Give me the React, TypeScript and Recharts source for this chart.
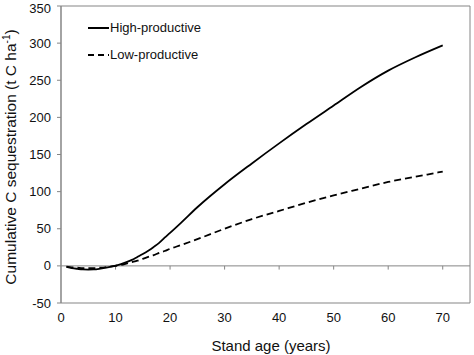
import { LineChart, Line, XAxis, YAxis, ReferenceArea, ReferenceLine, Legend } from 'recharts'

const ages = [1, 2, 3, 4, 5, 6, 7, 8, 9, 10, 11, 12, 13, 14, 15, 16, 17, 18, 19, 20, 22, 25, 30, 35, 40, 45, 50, 55, 60, 65, 70]
const highProductive = [-1.5, -3, -4, -4.8, -5, -4.8, -4, -2.8, -1.2, 0.5, 2.5, 5, 8, 12, 16, 20.5, 25.5, 31, 38, 44.5, 58, 79, 110, 138, 165, 191, 216, 241, 263, 281, 297]
const lowProductive = [-1, -2, -2.5, -3, -3, -3, -2.5, -2, -1, 0, 1.2, 3, 5, 7, 9.5, 12, 14.5, 17.5, 20, 23, 28, 36, 50, 63, 74, 85, 95, 104, 113, 120, 127]
const xTicks = [0, 10, 20, 30, 40, 50, 60, 70]
const yTicks = [-50, 0, 50, 100, 150, 200, 250, 300, 350]

const data = ages.map((age, i) => ({ age, high: highProductive[i], low: lowProductive[i] }))

const FONT = '"Liberation Sans", Arial, sans-serif'
const GRAY = '#858585'

function LegendBox() {
  const rows = [
    { label: 'High-productive', dash: undefined },
    { label: 'Low-productive', dash: '6 4' },
  ]
  return (
    <div style={{ fontFamily: FONT, fontSize: 13, color: '#111' }}>
      {rows.map((r) => (
        <div key={r.label} style={{ display: 'flex', alignItems: 'center', height: 27 }}>
          <svg width={21} height={10} style={{ marginRight: 1 }}>
            <line x1={0} y1={5} x2={21} y2={5} stroke="#000" strokeWidth={2} strokeDasharray={r.dash} />
          </svg>
          <span>{r.label}</span>
        </div>
      ))}
    </div>
  )
}

export default function App() {
  return (
    <div style={{ position: 'absolute', left: 0, top: 0, width: 474, height: 355, background: '#fff' }}>
      <LineChart width={474} height={355} data={data} margin={{ top: 6, right: 4, bottom: 0, left: 0 }}>
        <ReferenceArea x1={0} x2={75} y1={-50} y2={350} fill="none" stroke={GRAY} strokeWidth={1} />
        <ReferenceLine y={0} stroke={GRAY} strokeWidth={1} />
        {xTicks.slice(1).map((t) => (
          <ReferenceLine key={t} segment={[{ x: t, y: 0 }, { x: t, y: -5 }]} stroke={GRAY} strokeWidth={1} />
        ))}
        <XAxis
          dataKey="age"
          type="number"
          domain={[0, 75]}
          ticks={xTicks}
          axisLine={false}
          tickLine={false}
          tickSize={0}
          tickMargin={10}
          height={52}
          tick={{ fontFamily: FONT, fontSize: 13, fill: '#111' }}
          label={() => (
            <text x={271} y={351} textAnchor="middle" fontFamily={FONT} fontSize={15} fill="#111">
              Stand age (years)
            </text>
          )}
        />
        <YAxis
          type="number"
          domain={[-50, 350]}
          ticks={yTicks}
          width={61}
          axisLine={{ stroke: GRAY }}
          tickLine={{ stroke: GRAY }}
          tickSize={4}
          tickMargin={6}
          tick={{ fontFamily: FONT, fontSize: 13, fill: '#111' }}
          label={() => (
            <text transform="translate(16,157) rotate(-90)" textAnchor="middle" fontFamily={FONT} fontSize={15.5} fill="#111">
              Cumulative C sequestration (t C ha
              <tspan dy={-6} fontSize={10}>-1</tspan>
              <tspan dy={6}>)</tspan>
            </text>
          )}
        />
        <Legend
          layout="horizontal"
          verticalAlign="middle"
          align="center"
          content={() => <LegendBox />}
          wrapperStyle={{ top: 14, left: 88, width: 'auto', height: 'auto' }}
        />
        <Line
          dataKey="high"
          name="High-productive"
          type="monotone"
          stroke="#000"
          strokeWidth={1.8}
          dot={false}
          isAnimationActive={false}
        />
        <Line
          dataKey="low"
          name="Low-productive"
          type="monotone"
          stroke="#000"
          strokeWidth={1.8}
          strokeDasharray="7 4"
          dot={false}
          isAnimationActive={false}
        />
      </LineChart>
    </div>
  )
}
